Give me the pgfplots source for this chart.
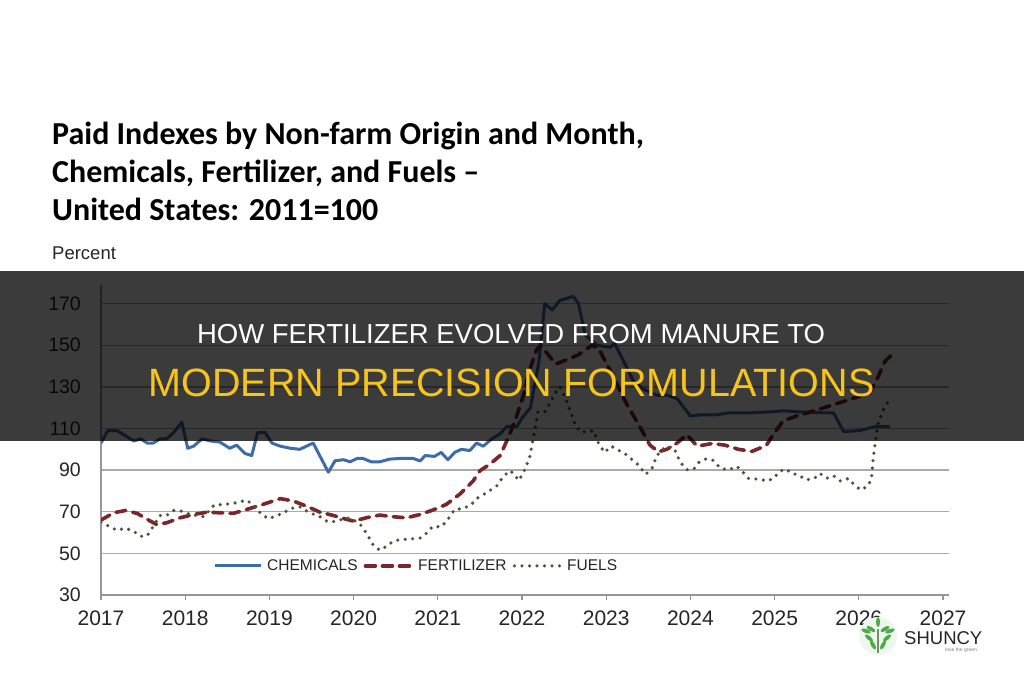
\documentclass[border=0pt]{standalone}
\usepackage{fontspec}
\setmainfont{Liberation Sans}
\newfontfamily\carlito{Carlito}
\usepackage{pgfplots}
\pgfplotsset{compat=1.18}
\definecolor{chem}{RGB}{62,108,168}
\definecolor{fert}{RGB}{122,38,42}
\definecolor{fuel}{RGB}{78,88,52}
\definecolor{gridc}{RGB}{170,170,170}
\definecolor{axc}{RGB}{150,150,150}
\definecolor{bandy}{RGB}{247,196,26}
\definecolor{leaf}{RGB}{76,170,72}
\begin{document}
\begin{tikzpicture}
\fill[white] (0pt,0pt) rectangle (1024pt,680pt);
% titles
\node[anchor=base west, inner sep=0pt, font=\carlito\bfseries\fontsize{32pt}{38pt}\selectfont] at (52pt,535.7pt) {Paid Indexes by Non-farm Origin and Month,};
\node[anchor=base west, inner sep=0pt, font=\carlito\bfseries\fontsize{32pt}{38pt}\selectfont] at (52pt,497.3pt) {Chemicals, Fertilizer, and Fuels –};
\node[anchor=base west, inner sep=0pt, font=\carlito\bfseries\fontsize{32pt}{38pt}\selectfont] at (52pt,459.3pt) {United States: 2011=100};
\node[anchor=base west, inner sep=0pt, font=\fontsize{18.5pt}{22pt}\selectfont, text=black!85] at (52pt,420pt) {Percent};
\begin{axis}[
  at={(101pt,85pt)}, anchor=south west,
  scale only axis, width=847.9pt, height=310.1pt,
  xmin=2017, xmax=2027.07, ymin=30, ymax=179,
  axis x line*=bottom, axis y line*=left,
  axis line style={axc, line width=1.3pt, -},
  xtick={2017,2018,2019,2020,2021,2022,2023,2024,2025,2026,2027},
  xticklabels={2017,2018,2019,2020,2021,2022,2023,2024,2025,2026,2027},
  ytick={30,50,70,90,110,130,150,170},
  yticklabels={30,50,70,90,110,130,150,170},
  tick align=outside, major tick length=5pt,
  xtick style={axc, line width=1.2pt},
  ytick style={draw=none},
  xticklabel style={font=\fontsize{21pt}{24pt}\selectfont, text=black!85, inner sep=0pt, anchor=north, yshift=-11pt},
  yticklabel style={font=\fontsize{19.5pt}{22pt}\selectfont, text=black!85, inner sep=0pt, anchor=east, xshift=-15pt},
  ymajorgrids, grid style={gridc, line width=1.3pt},
  legend style={at={(axis cs:2018.33,44)}, anchor=west, draw=none, fill=none,
    legend columns=3, inner sep=0pt, font=\fontsize{15.5pt}{18pt}\selectfont, text=black!85,
    nodes={inner sep=0pt},
    /tikz/every odd column/.append style={column sep=5pt},
    /tikz/every even column/.append style={column sep=6pt}},
  legend image code/.code={\draw[#1] (0pt,0pt) -- (46pt,0pt);},
]
\addplot[chem, line width=3pt, line join=round] coordinates {
(2017.00,103) (2017.08,109) (2017.19,109) (2017.27,107) (2017.39,104) (2017.47,105)
(2017.55,103) (2017.62,103) (2017.70,105) (2017.78,105) (2017.86,108) (2017.96,113)
(2018.03,100.5) (2018.10,101.5) (2018.20,105) (2018.30,104) (2018.41,103.5) (2018.53,100.5)
(2018.61,102) (2018.71,98) (2018.79,97) (2018.86,108) (2018.95,108) (2019.03,103)
(2019.13,101.5) (2019.25,100.5) (2019.36,100) (2019.52,103) (2019.70,89) (2019.78,94.5)
(2019.88,95) (2019.96,94) (2020.04,95.6) (2020.11,95.6) (2020.21,94) (2020.31,94)
(2020.43,95.3) (2020.55,95.6) (2020.71,95.6) (2020.79,94.4) (2020.85,97) (2020.96,96.6)
(2021.04,98.5) (2021.12,95) (2021.20,98.5) (2021.28,100) (2021.38,99.4) (2021.46,103)
(2021.54,101.5) (2021.64,105) (2021.74,107.5) (2021.82,111) (2021.94,111) (2022.00,115)
(2022.10,120) (2022.20,142) (2022.27,170) (2022.36,167) (2022.45,171.6) (2022.53,172.5)
(2022.61,173.5) (2022.67,170) (2022.75,155) (2022.89,150) (2023.05,149) (2023.10,151)
(2023.24,139.6) (2023.32,133) (2023.44,129) (2023.60,126) (2023.72,126) (2023.84,124.4)
(2024.00,116) (2024.10,116.5) (2024.30,116.5) (2024.45,117.5) (2024.70,117.5) (2024.95,118)
(2025.10,118.5) (2025.30,118) (2025.60,117.5) (2025.70,117.5) (2025.82,108.5) (2026.01,109)
(2026.20,111) (2026.37,110.8)
};
\addlegendentry{CHEMICALS}
\addplot[fert, line width=3.6pt, line cap=round, dash pattern=on 10pt off 7pt] coordinates {
(2017.00,66) (2017.15,69.5) (2017.29,70.6) (2017.43,69.2) (2017.55,66.3) (2017.66,63.9)
(2017.78,64.7) (2017.94,67.1) (2018.10,68.7) (2018.26,69.8) (2018.41,69.5) (2018.57,69.2)
(2018.73,71.1) (2018.89,73.1) (2019.01,74.7) (2019.13,76.3) (2019.28,75.2) (2019.44,72.7)
(2019.60,69.8) (2019.76,68.2) (2019.92,66.3) (2020.00,65.5) (2020.15,67.1) (2020.31,68.4)
(2020.47,67.6) (2020.63,67.1) (2020.79,68.7) (2020.94,70.8) (2021.10,73.5) (2021.26,78.4)
(2021.42,84.8) (2021.50,89.7) (2021.62,92.9) (2021.74,97) (2021.83,105) (2021.92,114)
(2022.01,125) (2022.09,138) (2022.17,147.6) (2022.22,150) (2022.30,146) (2022.40,141)
(2022.53,143) (2022.67,145.4) (2022.83,150) (2022.91,148.5) (2023.07,136) (2023.24,122)
(2023.40,110.8) (2023.52,102) (2023.62,98.8) (2023.72,100) (2023.84,103) (2023.96,107)
(2024.08,101.5) (2024.26,102.8) (2024.41,102) (2024.57,100) (2024.73,99) (2024.90,101.8)
(2025.00,108) (2025.10,113.6) (2025.26,116) (2025.42,117.9) (2025.62,120.4) (2025.82,123)
(2026.01,125.5) (2026.13,127) (2026.23,135) (2026.31,142.2) (2026.39,145.4)
};
\addlegendentry{FERTILIZER}
\addplot[fuel, line width=3.6pt, line cap=round, dash pattern=on 0pt off 7.5pt] coordinates {
(2017.00,65) (2017.11,62.7) (2017.19,61.1) (2017.29,62.1) (2017.39,60.6) (2017.47,58.2)
(2017.55,58.5) (2017.62,63) (2017.70,68.2) (2017.78,68.2) (2017.86,70.6) (2017.96,70.3)
(2018.06,68.7) (2018.14,68.2) (2018.22,67.6) (2018.34,73.1) (2018.45,73.5) (2018.57,74)
(2018.73,75.6) (2018.81,73.1) (2018.91,68.7) (2018.99,66.6) (2019.09,68.2) (2019.17,69.5)
(2019.25,71.5) (2019.36,72.4) (2019.48,69.5) (2019.60,67.6) (2019.70,65) (2019.80,65.5)
(2019.92,67.1) (2020.00,66) (2020.08,63.9) (2020.15,59.8) (2020.23,54.2) (2020.31,51.5)
(2020.39,53.4) (2020.47,55.8) (2020.55,56.6) (2020.67,56.9) (2020.79,57.4) (2020.87,59.8)
(2020.94,63) (2021.04,62.7) (2021.12,66.3) (2021.20,71.1) (2021.30,71.5) (2021.40,73.5)
(2021.46,76.3) (2021.58,79.2) (2021.70,82.4) (2021.77,86.5) (2021.85,89.7) (2021.90,88.5)
(2021.96,85) (2022.02,89) (2022.09,96) (2022.15,109) (2022.19,118) (2022.27,118)
(2022.33,122) (2022.39,126.8) (2022.45,130) (2022.51,125) (2022.57,118.8) (2022.63,112)
(2022.69,108.4) (2022.77,108.4) (2022.85,109) (2022.91,102.7) (2022.98,98.5) (2023.06,101.5)
(2023.23,97.7) (2023.37,92.9) (2023.47,88) (2023.55,91.3) (2023.60,97) (2023.70,101)
(2023.80,101) (2023.88,93.7) (2023.96,90.2) (2024.04,90.5) (2024.10,93.7) (2024.18,95.3)
(2024.26,95) (2024.36,90.8) (2024.46,90.2) (2024.55,91.8) (2024.61,89.7) (2024.69,86)
(2024.83,85.6) (2024.91,84.8) (2024.99,86) (2025.05,89.2) (2025.13,90.5) (2025.21,88.4)
(2025.29,87.6) (2025.37,85.3) (2025.47,86) (2025.54,88.4) (2025.62,86.1) (2025.70,87.3)
(2025.78,84.8) (2025.88,86) (2025.94,83.2) (2026.02,80.5) (2026.10,82.1) (2026.15,85.6)
(2026.17,95) (2026.20,105) (2026.23,112.6) (2026.29,118.9) (2026.35,123)
};
\addlegendentry{FUELS}
\end{axis}
% overlay band
\fill[black, opacity=0.77] (0pt,239pt) rectangle (1024pt,409pt);
\node[anchor=base, inner sep=0pt, text=white, font=\fontsize{27.5pt}{32pt}\selectfont] at (511pt,336.7pt) {HOW FERTILIZER EVOLVED FROM MANURE TO};
\node[anchor=base, inner sep=0pt, text=bandy, font=\fontsize{39.5pt}{46pt}\selectfont] at (511.5pt,283.3pt) {MODERN PRECISION FORMULATIONS};
% watermark
\fill[leaf!10!white] (878pt,44pt) circle (19pt);
\draw[leaf!60!black!70, line width=1.5pt] (878pt,27pt) -- (878pt,51pt);
\foreach \a/\dx/\dy in {30/7/7, 150/-7/7, 40/9/-2, 140/-9/-2, 90/0/14, 20/12/5, 160/-12/5, 60/5/-9, 120/-5/-9} {
  \fill[leaf, rotate around={\a:(878pt+\dx pt,44pt+\dy pt)}] (878pt+\dx pt,44pt+\dy pt) ellipse (5pt and 2pt);
}
\node[anchor=base west, inner sep=0pt, text=black!85, font=\fontsize{18.5pt}{22pt}\selectfont] at (904pt,35.5pt) {SHUNCY};
\node[anchor=base west, inner sep=0pt, text=black!50, font=\fontsize{5pt}{6pt}\selectfont] at (945pt,29pt) {love the green};
\pgfresetboundingbox
\useasboundingbox (0pt,0pt) rectangle (1024pt,680pt);
\end{tikzpicture}
\end{document}
